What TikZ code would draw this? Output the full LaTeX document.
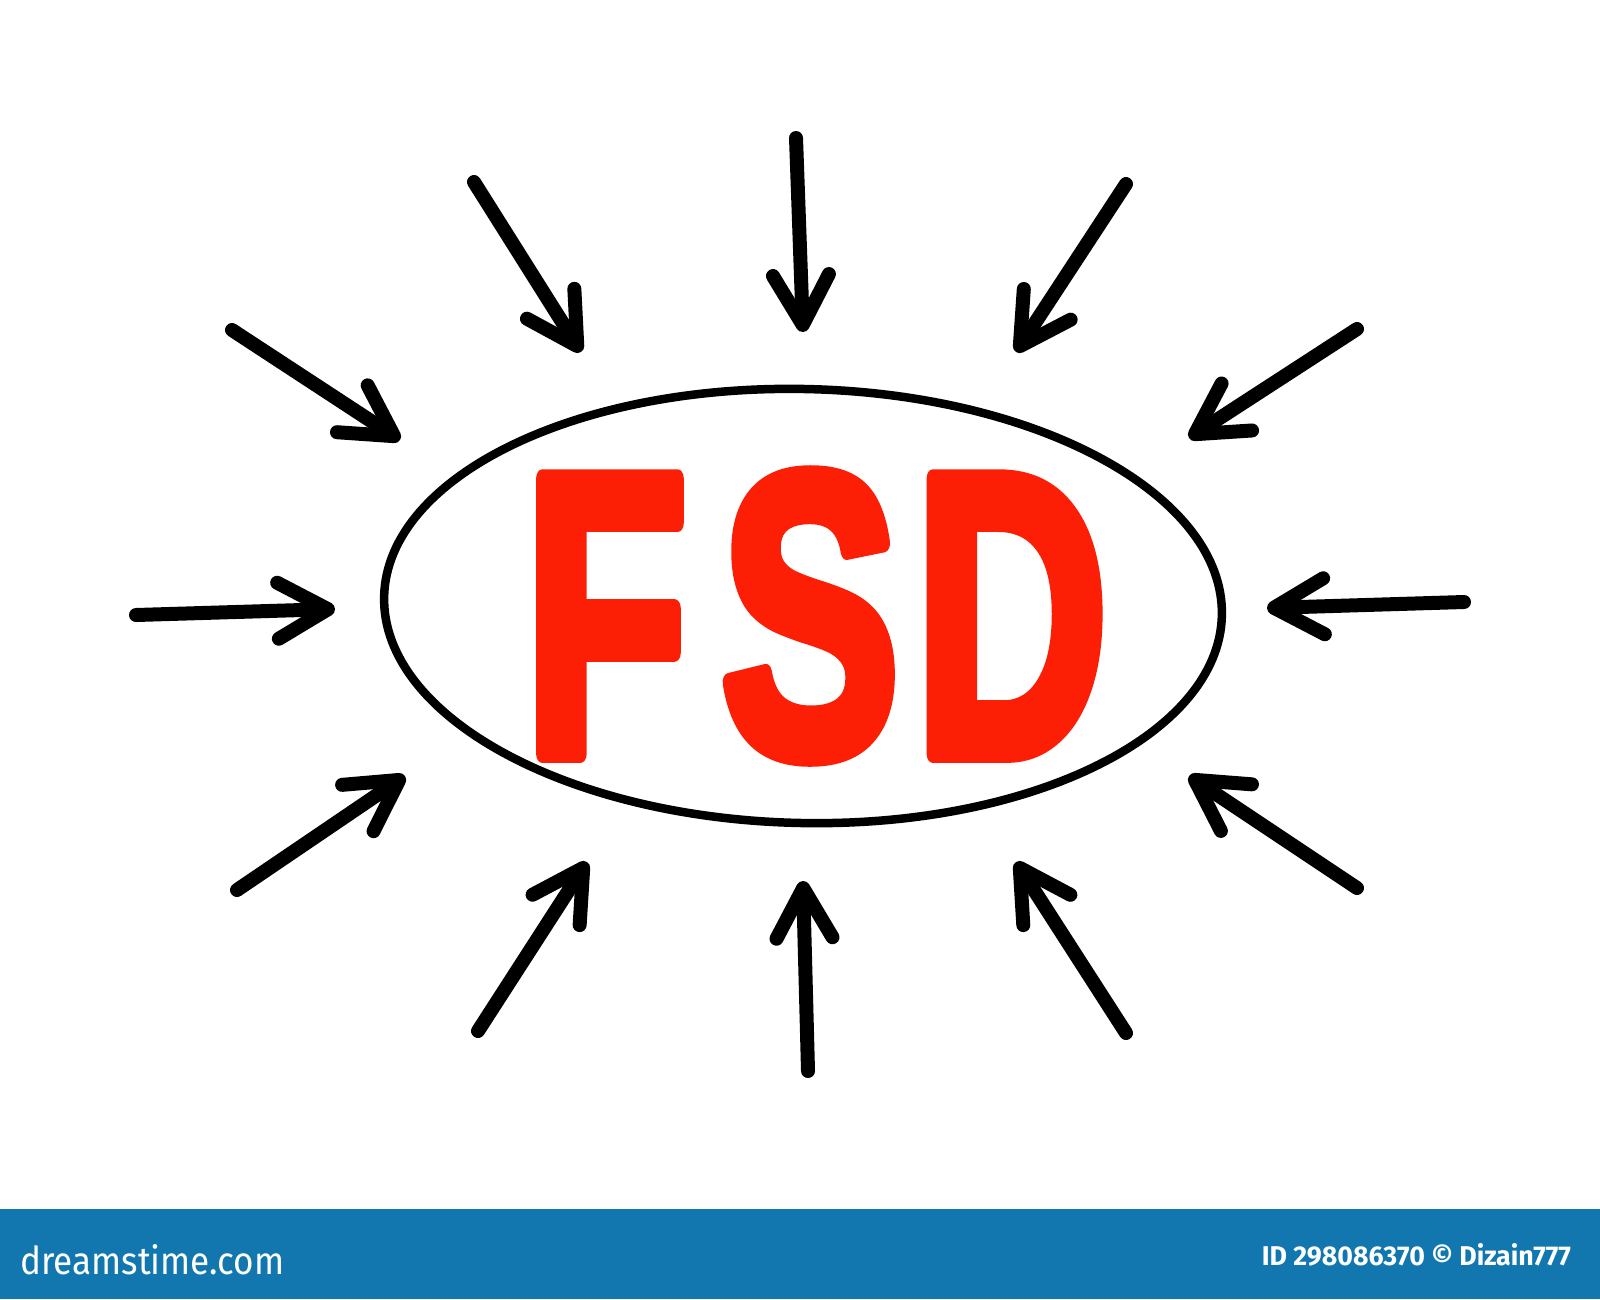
\documentclass[tikz,border=0pt]{standalone}
\usepackage{fontspec}
\usetikzlibrary{arrows.meta}
\newfontfamily\fsdfont{Liberation Sans}
\newfontfamily\bannerfont{Fira Sans}
\definecolor{fsdred}{RGB}{252,30,5}
\definecolor{bannerblue}{RGB}{17,119,174}
\newcommand{\roundtext}[1]{\special{pdf:literal q 2 Tr 1 j 1 J 0.45 w}#1\special{pdf:literal Q}}
\tikzset{
  arr/.style={line width=14pt, line cap=round, line join=round,
    -{Straight Barb[length=50pt, width=56pt, line cap=round, line join=round]}},
  ring/.style={line width=8.5pt},
}
\begin{document}
\begin{tikzpicture}[x=1pt,y=-1pt]
\useasboundingbox (0,0) rectangle (1600,1299);
\fill[white] (0,0) rectangle (1600,1299);
% ellipse
\draw[ring, rotate around={-1.3:(803,606)}] (803,606) ellipse [x radius=419, y radius=217];
\node[text=fsdred, inner sep=0] (fsd) at (816,616) {\resizebox{583pt}{279pt}{\fsdfont\bfseries\roundtext{F\kern1.25pt S\kern0.58pt D}}};
% arrow coordinates
\coordinate (t1) at (796,138);  \coordinate (h1) at (803,332);
\coordinate (t2) at (474,182);  \coordinate (h2) at (581,352);
\coordinate (t3) at (1126,184); \coordinate (h3) at (1016,352);
\coordinate (t4) at (232,330);  \coordinate (h4) at (400,440);
\coordinate (t5) at (1357,329); \coordinate (h5) at (1189,438);
\coordinate (t6) at (136,615);  \coordinate (h6) at (335,609);
\coordinate (t7) at (1464,602); \coordinate (h7) at (1267,608);
\coordinate (t8) at (237,890);  \coordinate (h8) at (405,776);
\coordinate (t9) at (1357,888); \coordinate (h9) at (1189,776);
\coordinate (t10) at (478,1031); \coordinate (h10) at (587,862);
\coordinate (t11) at (808,1071); \coordinate (h11) at (803,881);
\coordinate (t12) at (1126,1033); \coordinate (h12) at (1016,862);
\foreach \i in {1,...,12} { \draw[arr] (t\i) -- (h\i); }
% banner
\fill[bannerblue] (0,1209) rectangle (1600,1299);
\node[text=white, inner sep=0, anchor=west] (logo) at (20,1260)
  {\resizebox{264pt}{30pt}{\bannerfont dreamstime.com}};
\node[text=white, inner sep=0, anchor=east] (credit) at (1571,1255)
  {\resizebox{309pt}{22pt}{\bannerfont\bfseries ID 298086370 © Dizain777}};
\end{tikzpicture}
\end{document}
